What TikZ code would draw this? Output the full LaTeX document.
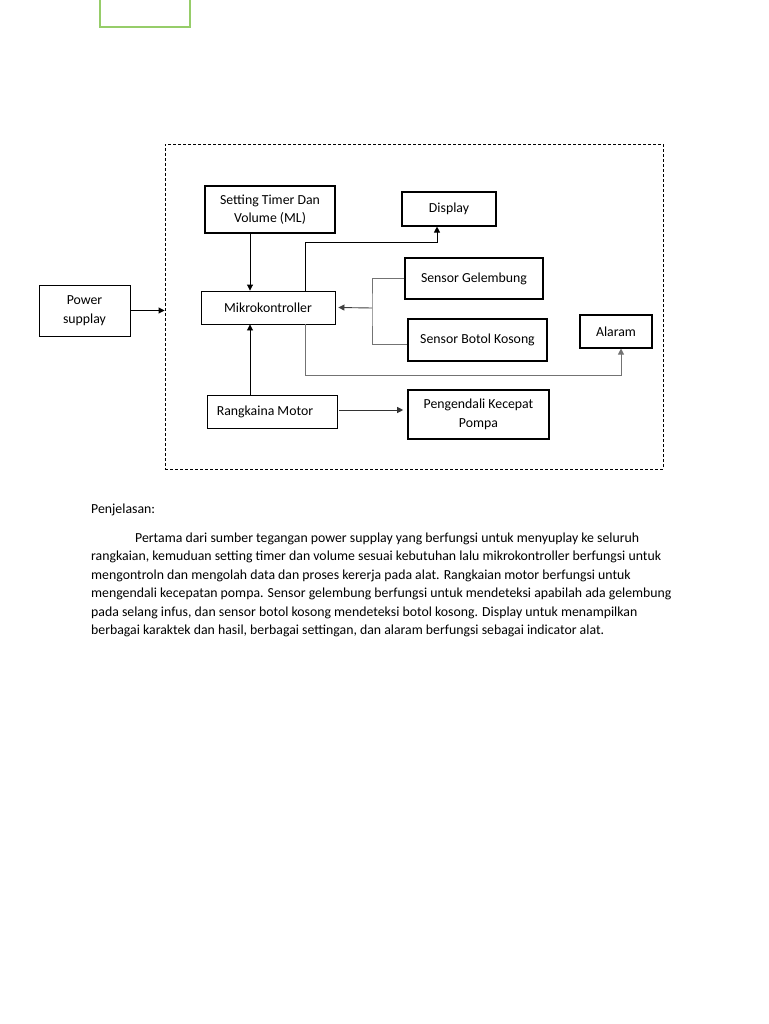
\documentclass[tikz,border=0pt]{standalone}
\usepackage{fontspec}
\setmainfont{Carlito}
\usetikzlibrary{arrows.meta}
\definecolor{boxgreen}{RGB}{150,205,105}
\tikzset{
  box/.style={draw=black, line width=0.9pt, inner sep=0pt, align=center, font=\fontsize{13.8}{18.5}\selectfont},
  thickbox/.style={box, line width=1.6pt},
  arr/.style={line width=0.9pt, -{Triangle[length=6pt,width=6pt]}},
  grayline/.style={draw=black!55, line width=1pt},
  para/.style={anchor=base west, inner sep=0pt, font=\fontsize{13.8}{18.6}\selectfont}
}
\begin{document}
\begin{tikzpicture}[x=1pt,y=-1pt]
\useasboundingbox[fill=white] (0,0) rectangle (768,1024);
% green box at top
\draw[boxgreen, line width=1.2pt] (100,-5) rectangle (190,27);
% dashed frame
\node[draw, dash pattern=on 3pt off 2pt, line width=0.9pt, minimum width=498, minimum height=325, inner sep=0pt] (frame) at (414,306.5) {};
% nodes
\node[box, minimum width=91, minimum height=51] (ps) at (84.5,310.5) {Power\\supplay};
\node[box, line width=1.2pt, minimum width=130, minimum height=47] (st) at (270,209.5) {Setting Timer Dan\\Volume (ML)};
\node[box, minimum width=134, minimum height=33] (mk) at (268,307.5) {Mikrokontroller};
\node[box, line width=1.1pt, minimum width=94, minimum height=34] (dp) at (449,209) {Display};
\node[box, line width=1.2pt, minimum width=138, minimum height=41] (sg) at (474,278.5) {Sensor Gelembung};
\node[box, line width=1.2pt, minimum width=139, minimum height=42] (sb) at (477.5,340) {Sensor Botol Kosong};
\node[box, line width=1.1pt, minimum width=72, minimum height=33] (al) at (616,331.5) {Alaram};
\node[box, minimum width=130, minimum height=33] (rm) at (272,411.5) {\hspace*{-14pt}Rangkaina Motor};
\node[thickbox, minimum width=141, minimum height=49] (pk) at (478.5,414.5) {Pengendali Kecepat\\Pompa};
% connectors
\draw[arr] (ps.east) -- (frame.west |- ps.east);
\draw[arr] ([xshift=-20pt]st.south) -- ([xshift=-20pt]st.south |- mk.north);
\coordinate (dj) at (305,242);
\draw[line width=0.9pt, -{Triangle[length=6pt,width=6pt]}] (mk.north -| dj) -- (dj) -| ([xshift=-12pt]dp.south);
\coordinate (br) at (372,308);
\draw[grayline] (sg.west |- 0,278) -| (br) |- (sb.west |- 0,344);
\draw[arr, black!75] (br) -- ([xshift=3pt]mk.east);
\coordinate (aj) at (305,375);
\draw[grayline, -{Triangle[length=6pt,width=6pt]}] (mk.south -| aj) -- (aj) -| ([xshift=5pt]al.south);
\draw[arr] ([xshift=-22pt]rm.north) -- ([xshift=-22pt]rm.north |- mk.south);
\draw[arr, black!80] ([xshift=2pt]rm.east |- 0,410) -- ([xshift=-4pt]pk.west |- 0,410);
% text
\node[para] (pj) at (91,513) {Penjelasan:};
\node[para] (l1) at (135,542) {Pertama dari sumber tegangan power supplay yang berfungsi untuk menyuplay ke seluruh};
\node[para] (l2) at (91,560.5) {rangkaian, kemuduan setting timer dan volume sesuai kebutuhan lalu mikrokontroller berfungsi untuk};
\node[para] (l3) at (91,579) {mengontroln dan mengolah data dan proses kererja pada alat. Rangkaian motor berfungsi untuk};
\node[para] (l4) at (91,597.5) {mengendali kecepatan pompa. Sensor gelembung berfungsi untuk mendeteksi apabilah ada gelembung};
\node[para] (l5) at (91,616) {pada selang infus, dan sensor botol kosong mendeteksi botol kosong. Display untuk menampilkan};
\node[para] (l6) at (91,634.5) {berbagai karaktek dan hasil, berbagai settingan, dan alaram berfungsi sebagai indicator alat.};
\end{tikzpicture}
\end{document}
